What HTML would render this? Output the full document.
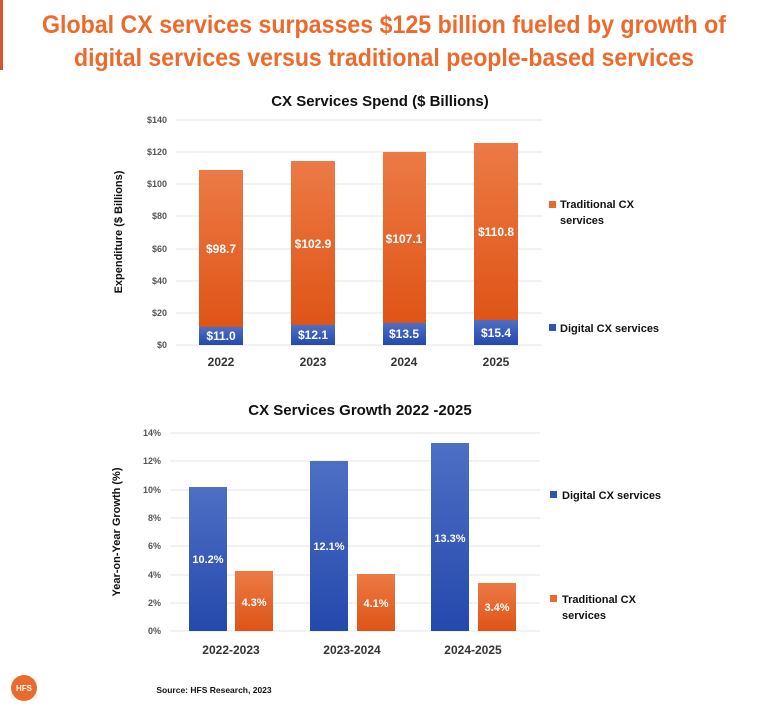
<!DOCTYPE html>
<html><head><style>
body{margin:0;background:#fff;}
svg{display:block;font-family:"Liberation Sans",sans-serif;}
</style></head><body>
<svg width="768" height="710" viewBox="0 0 768 710">
<defs>
<linearGradient id="og" x1="0" y1="0" x2="0" y2="1"><stop offset="0" stop-color="#ec7a45"/><stop offset="1" stop-color="#df5416"/></linearGradient>
<linearGradient id="bg" x1="0" y1="0" x2="0" y2="1"><stop offset="0" stop-color="#4e6fc4"/><stop offset="1" stop-color="#2449ad"/></linearGradient>
</defs>
<rect x="0" y="0" width="3" height="70" fill="#d9542c"/>
<g fill="#ec6a2c" font-weight="bold" font-size="25" text-anchor="middle">
<text x="384" y="33" textLength="684" lengthAdjust="spacingAndGlyphs">Global CX services surpasses $125 billion fueled by growth of</text>
<text x="384" y="66" textLength="620" lengthAdjust="spacingAndGlyphs">digital services versus traditional people-based services</text>
</g>
<text x="380" y="106" font-size="15" font-weight="bold" text-anchor="middle" fill="#111">CX Services Spend ($ Billions)</text>
<g stroke="#e6e6e6" stroke-width="1">
<line x1="176" x2="542" y1="120" y2="120"/><line x1="176" x2="542" y1="152" y2="152"/><line x1="176" x2="542" y1="184" y2="184"/><line x1="176" x2="542" y1="216" y2="216"/><line x1="176" x2="542" y1="249" y2="249"/><line x1="176" x2="542" y1="281" y2="281"/><line x1="176" x2="542" y1="313" y2="313"/><line x1="176" x2="542" y1="345" y2="345"/>
</g>
<g font-size="9" fill="#555" text-anchor="end" font-weight="bold">
<text x="167" y="123">$140</text><text x="167" y="155">$120</text><text x="167" y="187">$100</text><text x="167" y="219">$80</text><text x="167" y="252">$60</text><text x="167" y="284">$40</text><text x="167" y="316">$20</text><text x="167" y="348">$0</text>
</g>
<text transform="translate(122,232) rotate(-90)" font-size="11" font-weight="bold" text-anchor="middle" fill="#111">Expenditure ($ Billions)</text>
<g>
<rect x="199" y="170" width="44" height="158" fill="url(#og)"/><rect x="199" y="327" width="44" height="18" fill="url(#bg)"/>
<rect x="291" y="161" width="44" height="165" fill="url(#og)"/><rect x="291" y="325" width="44" height="20" fill="url(#bg)"/>
<rect x="383" y="152" width="43" height="172" fill="url(#og)"/><rect x="383" y="323" width="43" height="22" fill="url(#bg)"/>
<rect x="474" y="143" width="44" height="178" fill="url(#og)"/><rect x="474" y="320" width="44" height="25" fill="url(#bg)"/>
</g>
<g font-size="12" font-weight="bold" fill="#fff" text-anchor="middle">
<text x="221" y="253">$98.7</text><text x="313" y="248">$102.9</text><text x="404" y="243">$107.1</text><text x="496" y="236">$110.8</text>
<text x="221" y="340">$11.0</text><text x="313" y="339">$12.1</text><text x="404" y="338">$13.5</text><text x="496" y="337">$15.4</text>
</g>
<g font-size="12" font-weight="bold" fill="#333" text-anchor="middle">
<text x="221" y="366">2022</text><text x="313" y="366">2023</text><text x="404" y="366">2024</text><text x="496" y="366">2025</text>
</g>
<rect x="549" y="201" width="7" height="7" fill="#e86a2c"/>
<rect x="549" y="324" width="7" height="7" fill="#2f54b5"/>
<g font-size="11" font-weight="bold" fill="#111">
<text x="560" y="208">Traditional CX</text><text x="560" y="224">services</text>
<text x="560" y="332">Digital CX services</text>
</g>
<text x="360" y="415" font-size="15" font-weight="bold" text-anchor="middle" fill="#111">CX Services Growth 2022 -2025</text>
<g stroke="#e6e6e6" stroke-width="1">
<line x1="170" x2="540" y1="433" y2="433"/><line x1="170" x2="540" y1="461" y2="461"/><line x1="170" x2="540" y1="490" y2="490"/><line x1="170" x2="540" y1="518" y2="518"/><line x1="170" x2="540" y1="546" y2="546"/><line x1="170" x2="540" y1="575" y2="575"/><line x1="170" x2="540" y1="603" y2="603"/><line x1="170" x2="540" y1="631" y2="631"/>
</g>
<g font-size="9" fill="#555" text-anchor="end" font-weight="bold">
<text x="161" y="436">14%</text><text x="161" y="464">12%</text><text x="161" y="493">10%</text><text x="161" y="521">8%</text><text x="161" y="549">6%</text><text x="161" y="578">4%</text><text x="161" y="606">2%</text><text x="161" y="634">0%</text>
</g>
<text transform="translate(120,532) rotate(-90)" font-size="11" font-weight="bold" text-anchor="middle" fill="#111">Year-on-Year Growth (%)</text>
<g>
<rect x="189" y="487" width="38" height="144" fill="url(#bg)"/><rect x="235" y="571" width="38" height="60" fill="url(#og)"/>
<rect x="310" y="461" width="38" height="170" fill="url(#bg)"/><rect x="357" y="574" width="38" height="57" fill="url(#og)"/>
<rect x="431" y="443" width="38" height="188" fill="url(#bg)"/><rect x="478" y="583" width="38" height="48" fill="url(#og)"/>
</g>
<g font-size="11" font-weight="bold" fill="#fff" text-anchor="middle">
<text x="208" y="563">10.2%</text><text x="254" y="606">4.3%</text>
<text x="329" y="550">12.1%</text><text x="376" y="607">4.1%</text>
<text x="450" y="542">13.3%</text><text x="497" y="611">3.4%</text>
</g>
<g font-size="12" font-weight="bold" fill="#333" text-anchor="middle">
<text x="231" y="654">2022-2023</text><text x="352" y="654">2023-2024</text><text x="473" y="654">2024-2025</text>
</g>
<rect x="550" y="491" width="7" height="7" fill="#2f54b5"/>
<rect x="550" y="595" width="7" height="7" fill="#e86a2c"/>
<g font-size="11" font-weight="bold" fill="#111">
<text x="562" y="499">Digital CX services</text>
<text x="562" y="603">Traditional CX</text><text x="562" y="619">services</text>
</g>
<circle cx="24" cy="688" r="13" fill="#ec6a2c"/>
<text x="24" y="691" font-size="8" font-weight="bold" fill="#fff" text-anchor="middle">HFS</text>
<text x="214" y="693" font-size="8.5" font-weight="bold" fill="#111" text-anchor="middle">Source: HFS Research, 2023</text>
</svg>
</body></html>
